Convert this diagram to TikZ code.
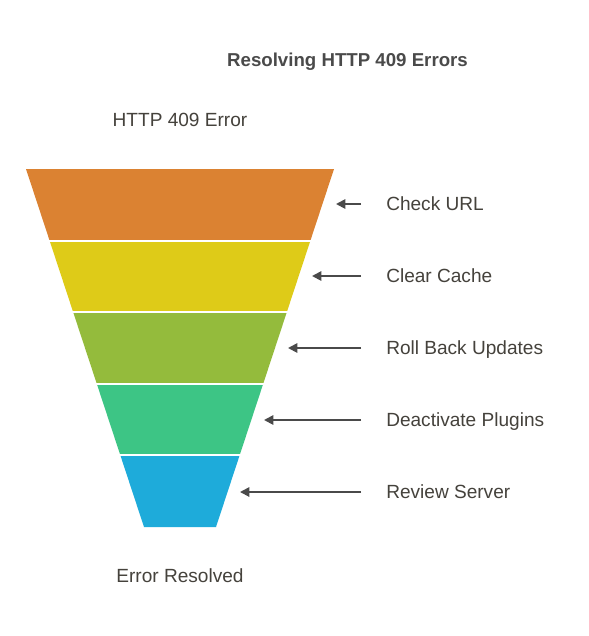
\documentclass[tikz,border=0pt]{standalone}
\usepackage{fontspec}
\setmainfont{Liberation Sans}
\usetikzlibrary{arrows.meta}
\definecolor{cOrange}{HTML}{DB8232}
\definecolor{cYellow}{HTML}{DECB18}
\definecolor{cGreen}{HTML}{94BB3C}
\definecolor{cTeal}{HTML}{3DC585}
\definecolor{cBlue}{HTML}{1EABDA}
\definecolor{cText}{HTML}{45423C}
\definecolor{cTitle}{HTML}{4A4A4A}
\definecolor{cArrow}{HTML}{4A4A4A}
\tikzset{
  sep/.style={draw=white, line width=1.5pt},
  lab/.style={anchor=west, inner sep=0pt, text depth=0pt, text=cText, font=\fontsize{14.3}{16}\selectfont},
  endlab/.style={inner sep=0pt, text depth=0pt, text=cText, font=\fontsize{14.3}{16}\selectfont},
  ttl/.style={inner sep=0pt, text depth=0pt, text=cTitle, font=\bfseries\fontsize{14}{16}\selectfont},
  arr/.style={draw=cArrow, line width=1.4pt, -{Triangle[length=7pt,width=7pt]}}
}
\begin{document}
\begin{tikzpicture}[x=0.75pt,y=-0.75pt]
\useasboundingbox[fill=white] (0,0) rectangle (589,636);
% funnel bands
\fill[cOrange] (26,169) -- (334,169) -- (310.4,240.6) -- (49.6,240.6) -- cycle;
\fill[cYellow] (49.6,240.6) -- (310.4,240.6) -- (286.8,312.2) -- (73.2,312.2) -- cycle;
\fill[cGreen] (73.2,312.2) -- (286.8,312.2) -- (263.2,383.8) -- (96.8,383.8) -- cycle;
\fill[cTeal] (96.8,383.8) -- (263.2,383.8) -- (239.6,455.4) -- (120.4,455.4) -- cycle;
\fill[cBlue] (120.4,455.4) -- (239.6,455.4) -- (216,527) -- (144,527) -- cycle;
\draw[sep] (40,240.6) -- (320,240.6);
\draw[sep] (60,312.2) -- (300,312.2);
\draw[sep] (85,383.8) -- (275,383.8);
\draw[sep] (110,455.4) -- (250,455.4);
% texts
\node[ttl] (title) at (347.5,60) {Resolving HTTP 409 Errors};
\node[endlab] (start) at (180,120) {HTTP 409 Error};
\node[endlab] (finish) at (180,576) {Error Resolved};
\node[lab] (l1) at (386,204) {Check URL};
\node[lab] (l2) at (386,276) {Clear Cache};
\node[lab] (l3) at (386,348) {Roll Back Updates};
\node[lab] (l4) at (386,420) {Deactivate Plugins};
\node[lab] (l5) at (386,492) {Review Server};
% arrows
\coordinate (s1) at (361,204); \coordinate (t1) at (336,204);
\coordinate (s2) at (361,276); \coordinate (t2) at (312,276);
\coordinate (s3) at (361,348); \coordinate (t3) at (288,348);
\coordinate (s4) at (361,420); \coordinate (t4) at (264,420);
\coordinate (s5) at (361,492); \coordinate (t5) at (240,492);
\draw[arr] (s1) -- (t1);
\draw[arr] (s2) -- (t2);
\draw[arr] (s3) -- (t3);
\draw[arr] (s4) -- (t4);
\draw[arr] (s5) -- (t5);
\end{tikzpicture}
\end{document}
